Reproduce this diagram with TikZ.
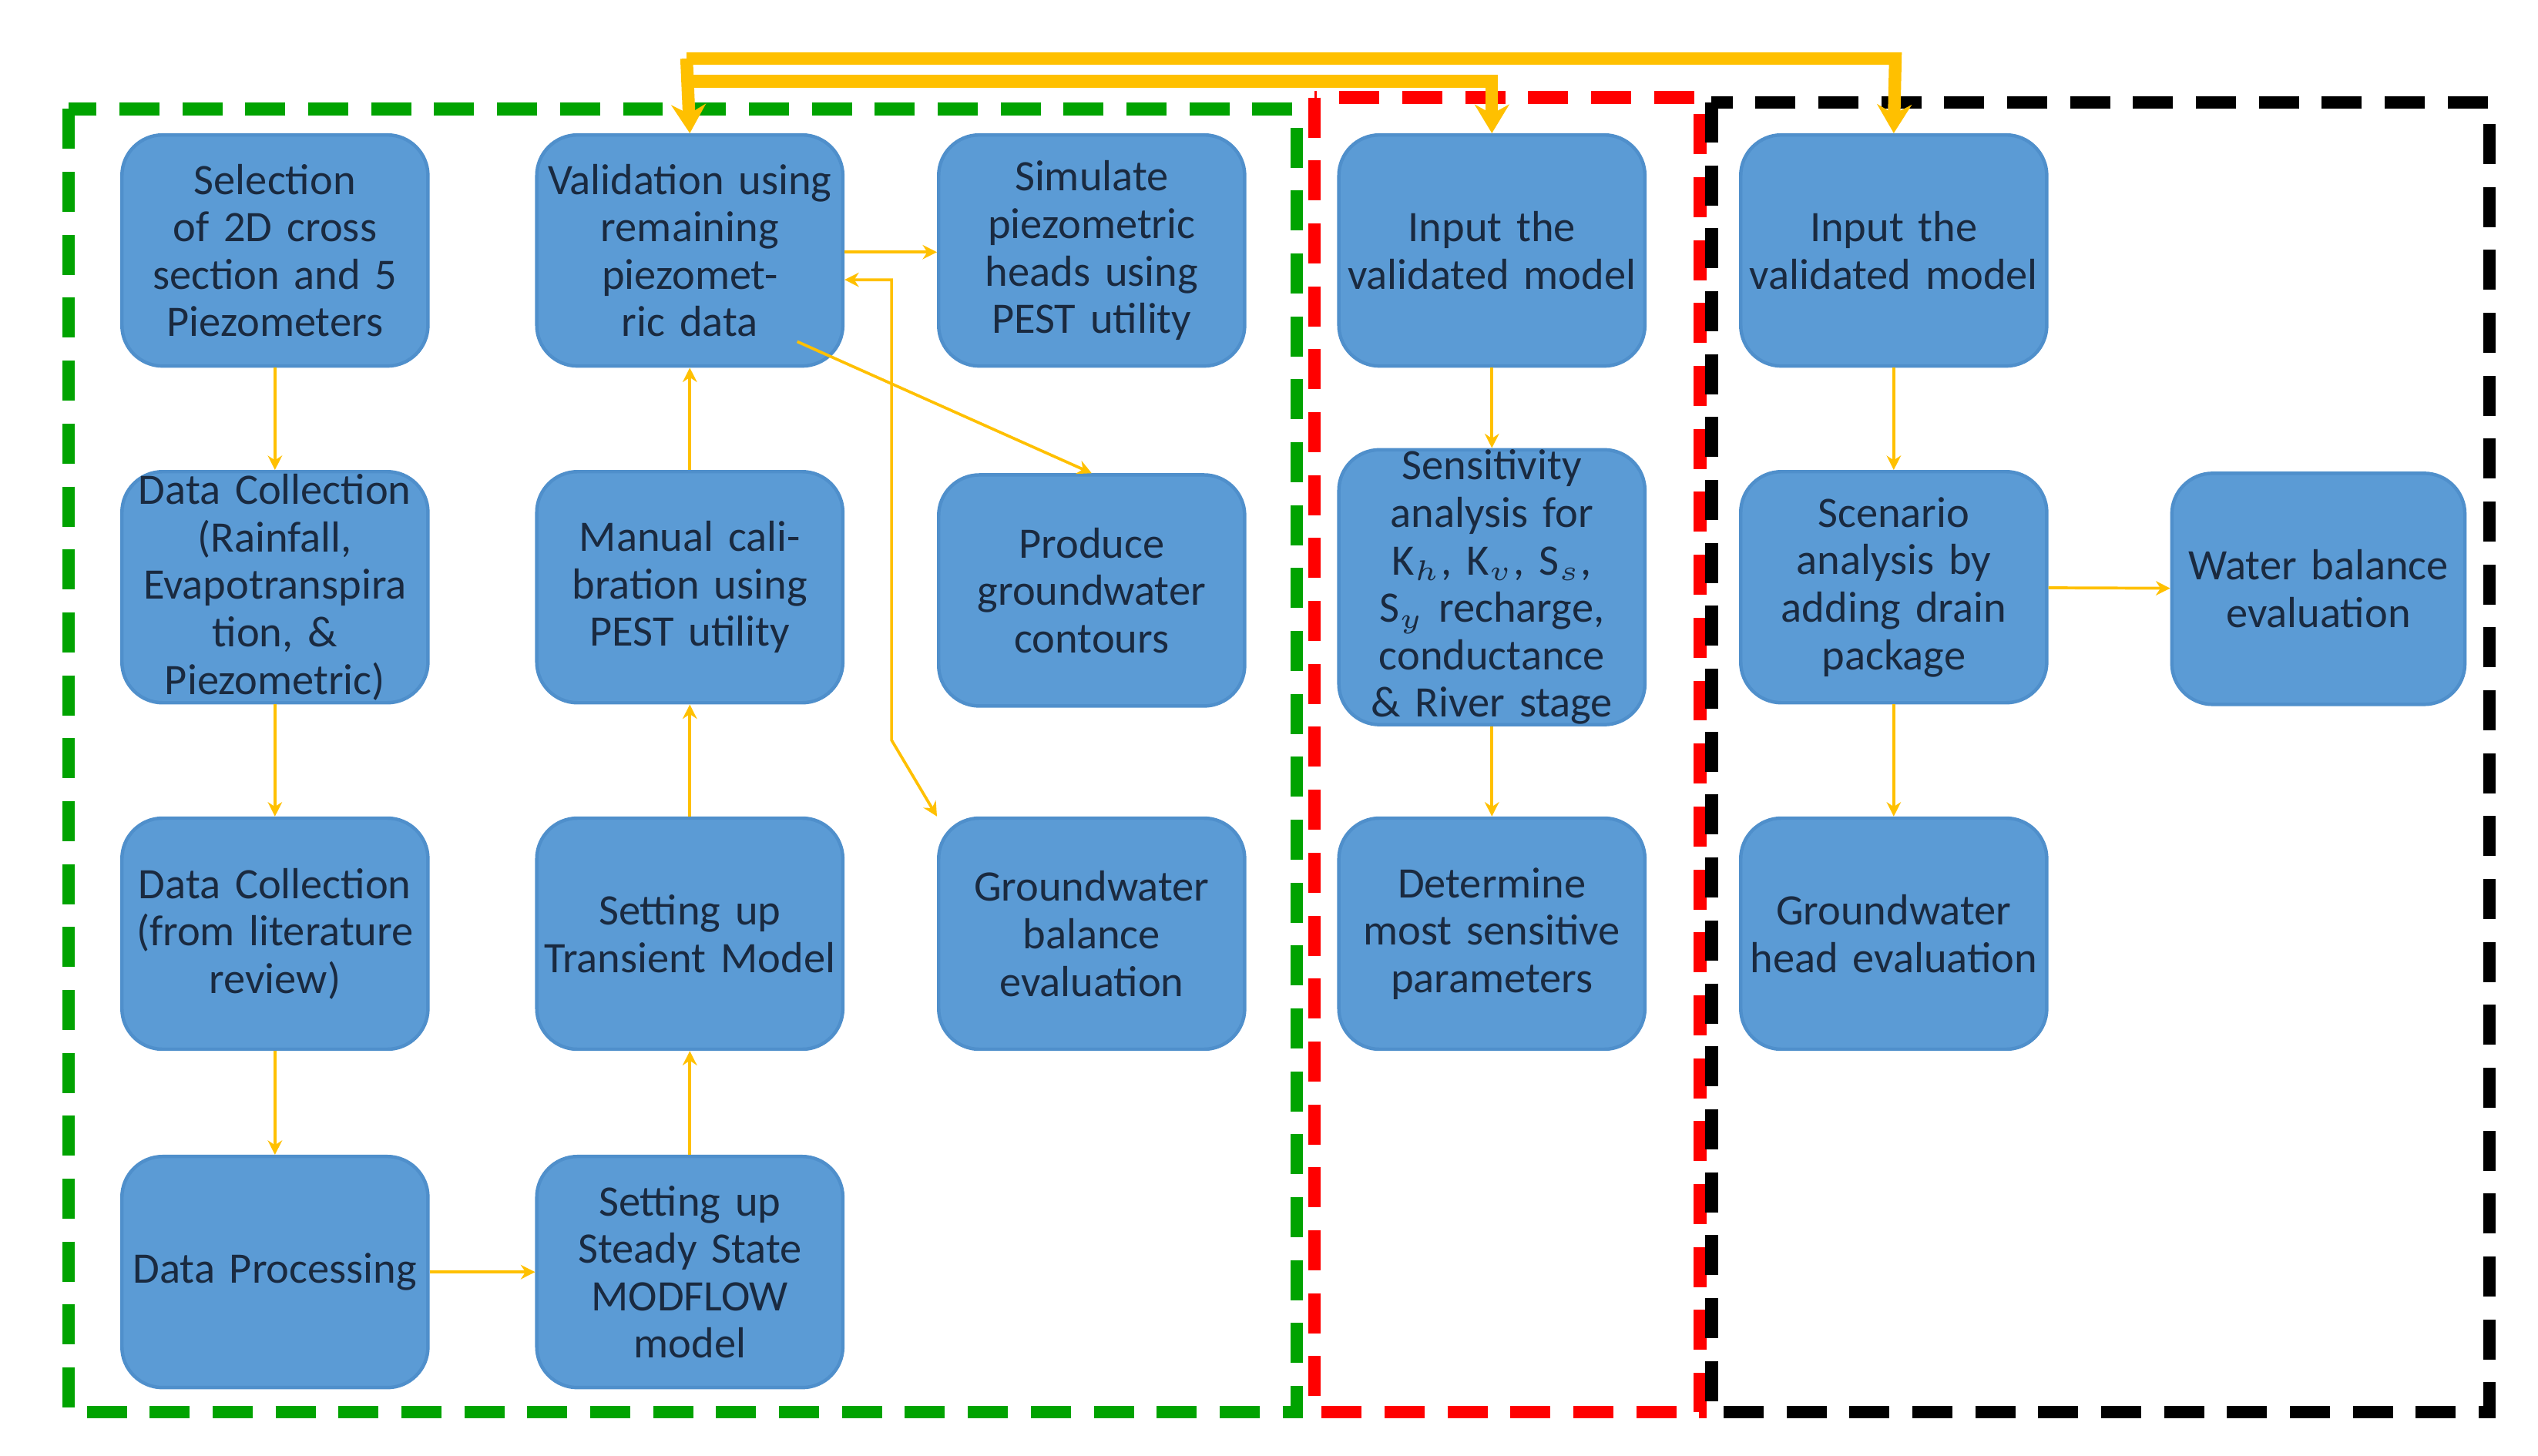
\documentclass[tikz,border=0pt]{standalone}
\usepackage{fontspec}
\setmainfont{Carlito}
\usetikzlibrary{arrows.meta}
\definecolor{boxblue}{HTML}{5B9BD5}
\definecolor{boxedge}{HTML}{4F8FCB}
\definecolor{gold}{HTML}{FFC000}
\definecolor{txt}{HTML}{1A2A40}
\begin{document}
\begin{tikzpicture}[x=0.01cm,y=-0.01cm,
  box/.style={draw=boxedge,line width=0.6pt,fill=boxblue,rounded corners=0.25cm,
    minimum width=1.88cm,minimum height=1.42cm,text width=1.8cm,align=center,
    inner sep=0pt,font=\fontsize{7.6}{8.3}\selectfont,text=txt},
  thin/.style={draw=gold,line width=0.5pt,-{Stealth[length=2.5pt,width=2.5pt]}},
  thick/.style={draw=gold,line width=2.2pt,-{Stealth[length=5pt,width=6pt]}},
  frame/.style={line width=2.2pt,dash pattern=on 7pt off 4pt}]
\useasboundingbox (0,0) rectangle (1560,895);
% frames
\draw[frame,draw=green!60!black!90!green] (42,67) rectangle (797,868);
\draw[frame,draw=red] (808,60) rectangle (1045,868);
\draw[frame,draw=black] (1052,63) rectangle (1530,868);
% column 1
\node[box] (a1) at (169,154) {Selection of 2D cross section and 5 Piezometers};
\node[box] (a2) at (169,361) {Data Collection (Rainfall, Evapotranspira tion, \& Piezometric)};
\node[box] (a3) at (169,574) {Data Collection (from literature review)};
\node[box] (a4) at (169,782) {Data Processing};
% column 2
\node[box] (b1) at (424,154) {Validation using remaining piezometric data};
\node[box] (b2) at (424,361) {Manual calibration using PEST utility};
\node[box] (b3) at (424,574) {Setting up Transient Model};
\node[box] (b4) at (424,782) {Setting up Steady State MODFLOW model};
% column 3
\node[box] (c1) at (671,154) {Simulate piezometric heads using PEST utility};
\node[box] (c2) at (671,363) {Produce groundwater contours};
\node[box] (c3) at (671,574) {Groundwater balance evaluation};
% column 4
\node[box] (d1) at (917,154) {Input the validated model};
\node[box,minimum height=1.68cm] (d2) at (917,361) {Sensitivity analysis for K$_h$, K$_v$, S$_s$, S$_y$ recharge, conductance \& River stage};
\node[box] (d3) at (917,574) {Determine most sensitive parameters};
% column 5
\node[box] (e1) at (1164,154) {Input the validated model};
\node[box] (e2) at (1164,361) {Scenario analysis by adding drain package};
\node[box] (e3) at (1164,574) {Groundwater head evaluation};
\node[box,minimum width=1.8cm,text width=1.7cm] (f2) at (1425,362) {Water balance evaluation};
% thin connectors
\draw[thin] (a1) -- (a2);
\draw[thin] (a2) -- (a3);
\draw[thin] (a3) -- (a4);
\draw[thin] (a4) -- (b4);
\draw[thin] (b4) -- (b3);
\draw[thin] (b3) -- (b2);
\draw[thin] (b2) -- (b1);
\draw[thin] (b1.east |- 0,155) -- (c1.west |- 0,155);
\coordinate (k1) at (548,172);
\coordinate (k2) at (548,455);
\draw[thin,{Stealth[length=2.5pt,width=2.5pt]}-{Stealth[length=2.5pt,width=2.5pt]}]
  (b1.east |- k1) -- (k1) -- (k2) -- (c3.north west);
\coordinate (k3) at (490,210);
\draw[thin] (k3) -- (c2.north);
\draw[thin] (d1) -- (d2);
\draw[thin] (d2) -- (d3);
\draw[thin] (e1) -- (e2);
\draw[thin] (e2) -- (e3);
\draw[thin] (e2) -- (f2);
% thick connectors
\coordinate (t1) at (422,36);
\coordinate (t2) at (1165,36);
\coordinate (t3) at (422,50);
\coordinate (t4) at (917,50);
\draw[thick] (t1) -- (t2) -- (e1.north);
\draw[thick] (t1) -- (b1.north);
\draw[thick] (t3) -- (t4) -- (d1.north);
\end{tikzpicture}
\end{document}
